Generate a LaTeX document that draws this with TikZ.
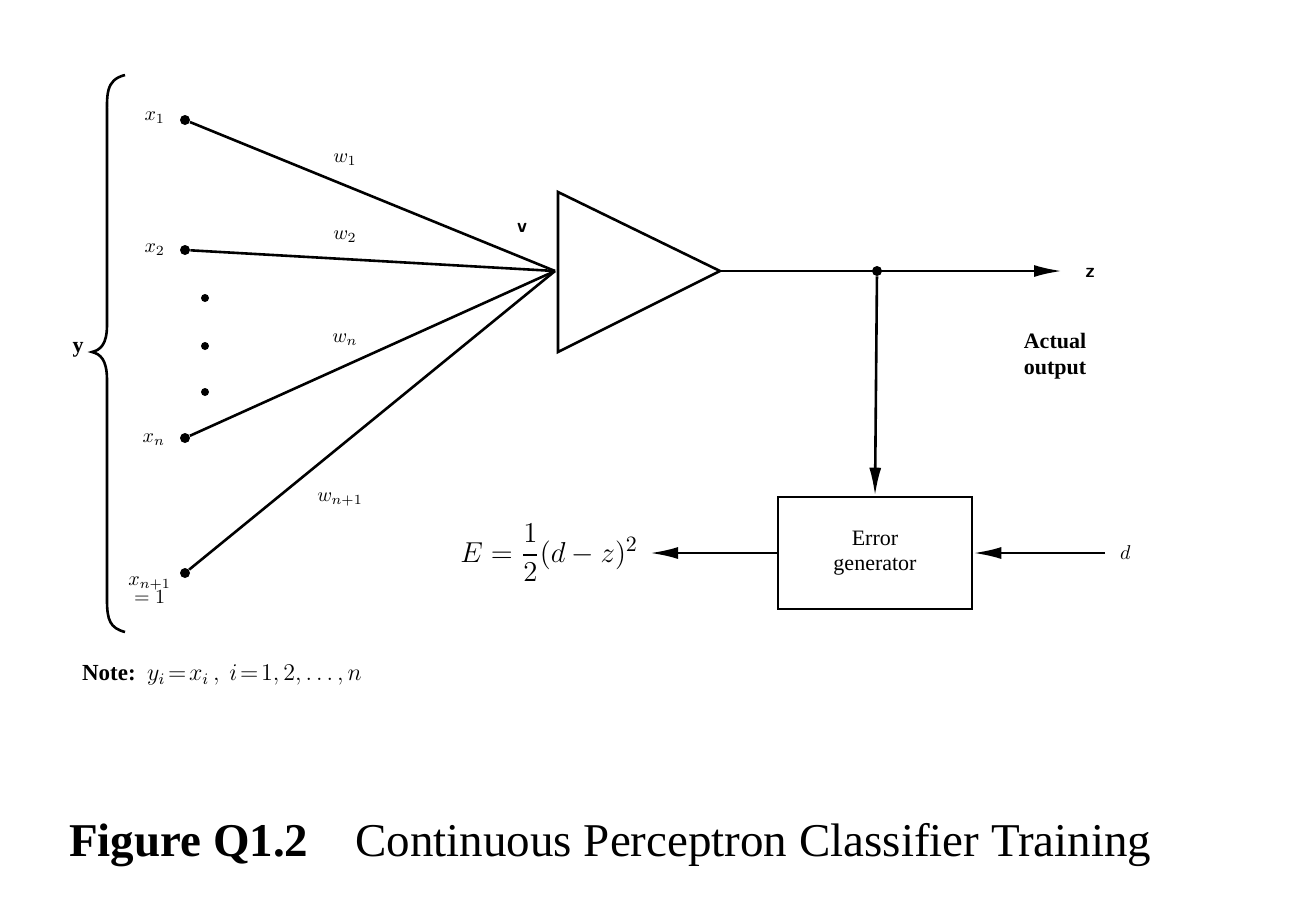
\documentclass[tikz,border=0pt]{standalone}
\usepackage{amsmath}
\usepackage{fontspec}
\setmainfont{Liberation Serif}
\usetikzlibrary{arrows.meta,decorations.pathreplacing}
\begin{document}
\begin{tikzpicture}[x=0.5pt,y=-0.5pt,
  ln/.style={line width=1.3pt},
  arr/.style={ln,-{Latex[length=14pt,width=6pt]}},
  pt/.style={circle,fill,inner sep=0pt,minimum size=5pt},
  lab/.style={font=\fontsize{10}{11}\selectfont}]
\useasboundingbox (0,0) rectangle (1304,916);
\node[pt] (x1) at (185,120) {};
\node[pt] (x2) at (185,250) {};
\node[pt] (xn) at (185,438) {};
\node[pt] (xn1) at (185,573) {};
\foreach \y [count=\i] in {298,346,392} \node[circle,fill,inner sep=0pt,minimum size=4pt] (d\i) at (205,\y) {};
\node[lab,anchor=east] at (172,118) {$x_1$};
\node[lab,anchor=east] at (172,250) {$x_2$};
\node[lab,anchor=east] at (172,440) {$x_n$};
\node[lab,anchor=east,align=center] at (178,590) {$x_{n+1}$\\[-2pt]$=1$};
\coordinate (v) at (555,271);
\draw[ln] (x1) -- (v); \draw[ln] (x2) -- (v); \draw[ln] (xn) -- (v); \draw[ln] (xn1) -- (v);
\node[lab] at (345,160) {$w_1$};
\node[lab] at (345,237) {$w_2$};
\node[lab] at (345,340) {$w_n$};
\node[lab] at (340,500) {$w_{n+1}$};
\node[font=\fontsize{10}{12}\selectfont\bfseries\sffamily] at (522,228) {v};
\draw[ln] (558,192) -- (720,271) -- (558,352) -- cycle;
\coordinate (tip) at (720,271);
\node[pt] (j) at (877,271) {};
\coordinate (zend) at (1062,271);
\draw[arr] (tip) -- (zend);
\node[font=\fontsize{10}{12}\selectfont\bfseries\sffamily] at (1090,273) {z};
\node[font=\fontsize{11}{13}\selectfont\bfseries,align=center] at (1055,356) {Actual\\output};
\node[draw,ln,minimum width=97pt,minimum height=56pt,align=center,font=\fontsize{11}{12.5}\selectfont] (eg) at (875,553) {Error\\generator};
\draw[arr] (j) -- (eg.north);
\coordinate (dd) at (1105,553);
\node[lab,anchor=west] at (1113,553) {$d$};
\draw[arr] (dd) -- (eg.east);
\coordinate (eout) at (650,553);
\draw[arr] (eg.west) -- (eout);
\node[anchor=east,font=\fontsize{15}{17}\selectfont] at (645,553) {$E=\dfrac{1}{2}(d-z)^2$};
\draw[ln] (125,75) .. controls (105,80) and (107,95) .. (107,120) -- (107,325)
  .. controls (107,345) and (100,350) .. (92,352)
  .. controls (100,354) and (107,359) .. (107,380) -- (107,600)
  .. controls (107,620) and (110,628) .. (125,632);
\node[font=\fontsize{11}{12}\selectfont\bfseries] at (78,350) {y};
\node[anchor=west,font=\fontsize{11.5}{13}\selectfont] at (75,675) {\textbf{Note:}\ \ $y_i\!=\!x_i\,,\ i\!=\!1,2,\ldots,n$};
\node[anchor=west,font=\fontsize{23.5}{27}\selectfont] at (62,845) {\textbf{Figure Q1.2}\quad Continuous Perceptron Classifier Training};
\end{tikzpicture}
\end{document}
